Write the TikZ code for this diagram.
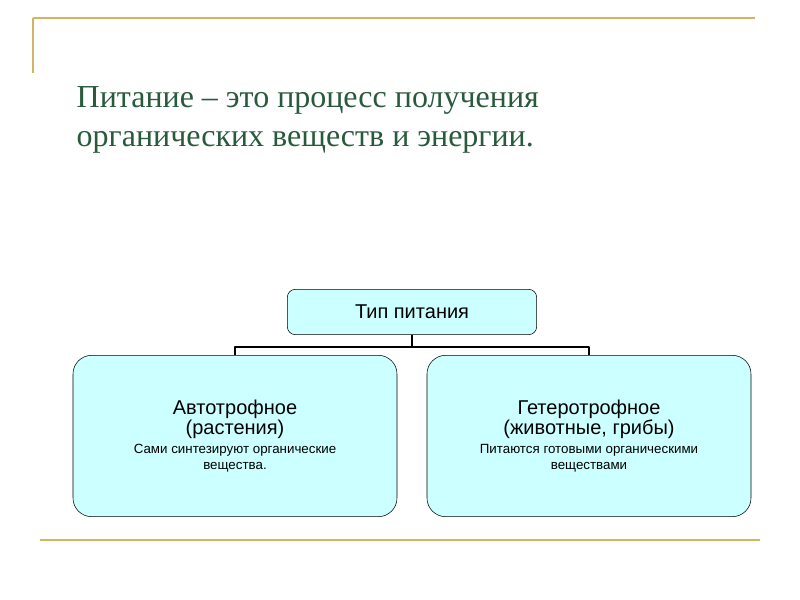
\documentclass[tikz,border=0pt]{standalone}
\usepackage{fontspec}
\setmainfont{Liberation Serif}
\newfontfamily\boxfont{Liberation Sans}
\usetikzlibrary{positioning}
\definecolor{gold}{RGB}{214,178,100}
\definecolor{titlegreen}{RGB}{40,90,60}
\definecolor{boxfill}{RGB}{204,255,255}
\newcommand{\bigline}{\fontsize{15}{19}\selectfont}
\newcommand{\smallline}{\fontsize{10}{13}\selectfont}

\begin{document}
\begin{tikzpicture}[x=0.75pt, y=-0.75pt, line join=bevel]
	\tikzstyle{topbox} = [draw, fill=boxfill, rounded corners=6pt, minimum width=187pt, minimum height=34pt, font=\boxfont\bigline];
	\tikzstyle{kindbox} = [draw, fill=boxfill, rounded corners=14pt, minimum width=243pt, minimum height=121pt, align=center, font=\boxfont];
	\tikzstyle{rule} = [draw=gold, line width=1.5pt];

	\fill[white] (0,0) rectangle (800,600);
	\draw[rule] (33,18) -- (755,18);
	\draw[rule] (33,18) -- (33,73);
	\draw[rule] (40,540) -- (760,540);

	\node[anchor=west, align=left, text=titlegreen, font=\fontsize{24}{29}\selectfont] at (72,120) (title) {Питание -- это процесс получения\\органических веществ и энергии.};

	\node[topbox] at (412,312) (type) {Тип питания};
	\node[kindbox] at (235,436) (autotroph) {\bigline Автотрофное\\\bigline (растения)\\[2pt]\smallline Сами синтезируют органические\\\smallline вещества.};
	\node[kindbox] at (589,436) (heterotroph) {\bigline Гетеротрофное\\\bigline (животные, грибы)\\[2pt]\smallline Питаются готовыми органическими\\\smallline веществами};

	\coordinate (mid) at (412,347);
	\draw[thick] (type) -- (mid) -| (autotroph.north);
	\draw[thick] (mid) -| (heterotroph.north);
\end{tikzpicture}
\end{document}
